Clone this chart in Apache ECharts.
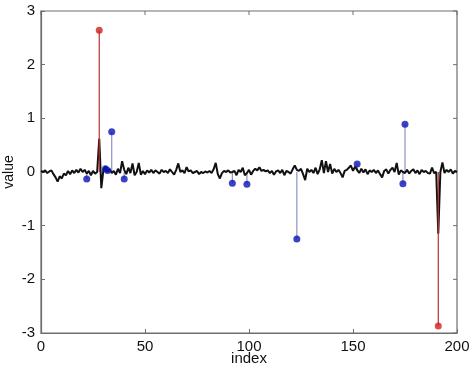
<!DOCTYPE html>
<html><head><meta charset="utf-8">
<script src="https://cdn.jsdelivr.net/npm/echarts@6/dist/echarts.min.js"></script>
<style>html,body{margin:0;padding:0;background:#fff}#c{width:474px;height:368px}</style>
</head><body><div id="c"></div>
<script>
const xTicks = [0, 50, 100, 150, 200];
const yTicks = [-3, -2, -1, 0, 1, 2, 3];
const signal = [
 0.02, 0.0, 0.03, -0.02, 0.01, 0.03, -0.04, -0.1, -0.18, -0.08,
 -0.12, -0.03, -0.06, 0.02, -0.04, 0.03, -0.02, 0.04, -0.01, 0.06,
 0.0, 0.04, -0.03, 0.02, -0.06, 0.02, -0.03, 0.0, 0.62, -0.3,
 0.04, 0.1, 0.0, 0.05, -0.02, 0.02, -0.05, 0.06, -0.02, 0.2,
 0.04, -0.04, 0.08, -0.02, 0.16, -0.06, 0.0, 0.17, -0.05, 0.02,
 -0.04, 0.03, -0.01, 0.04, -0.02, 0.03, 0.0, -0.03, 0.04, 0.0,
 0.02, -0.02, 0.05, 0.0, -0.05, 0.04, 0.16, 0.0, 0.03, -0.02,
 0.09, 0.01, 0.03, -0.02, 0.0, 0.02, -0.04, 0.0, -0.02, 0.01,
 -0.01, 0.02, -0.02, 0.05, 0.17, -0.04, -0.12, -0.02, 0.02, 0.0,
 0.03, -0.01, 0.0, 0.02, -0.06, 0.04, 0.0, 0.08, -0.06, -0.02,
 0.04, -0.05, 0.02, 0.06, 0.03, 0.09, 0.02, 0.04, 0.01, 0.03,
 -0.02, 0.02, -0.05, 0.01, 0.03, -0.02, 0.04, -0.06, 0.02, 0.0,
 -0.03, 0.05, 0.12, 0.04, 0.02, 0.06, -0.04, -0.15, 0.06, 0.0,
 0.04, -0.02, 0.08, -0.04, 0.05, 0.22, -0.02, 0.2, 0.0, 0.15,
 -0.03, 0.06, 0.0, 0.04, -0.02, -0.1, 0.02, 0.04, 0.08, 0.12,
 0.02, 0.1, 0.04, -0.02, 0.06, -0.01, 0.05, -0.04, 0.03, 0.0,
 0.04, -0.02, 0.03, -0.04, -0.1, 0.02, 0.05, -0.03, 0.04, 0.08,
 0.0, 0.17, -0.05, 0.03, 0.0, -0.02, 0.04, -0.03, 0.02, 0.05,
 -0.02, 0.03, -0.04, 0.04, 0.0, 0.02, -0.02, -0.03, 0.08, -0.02,
 0.0, -1.15, 0.0, 0.18, -0.02, 0.04, 0.0, 0.05, -0.03, 0.02,
 0.0
];
const blueIdx = [22, 31, 32, 34, 40, 92, 99, 123, 152, 174, 175];
const blueVal = [-0.13, 0.06, 0.03, 0.75, -0.13, -0.21, -0.23, -1.25, 0.15, -0.22, 0.89];
const redIdx = [28, 191];
const redVal = [2.64, -2.87];

const lineData = signal.map((v, i) => [i, v]);
const blueData = blueIdx.map((x, i) => [x, blueVal[i]]);
const redData = redIdx.map((x, i) => [x, redVal[i]]);

const frameColor = '#6e6e6e';
const xMin = xTicks[0], xMax = xTicks[xTicks.length - 1];
const yMin = yTicks[0], yMax = yTicks[yTicks.length - 1];

function stems(color) {
  return function (params, api) {
    const x = api.value(0), y = api.value(1);
    const p0 = api.coord([x, 0]);
    const p1 = api.coord([x, y]);
    return { type: 'line', shape: { x1: p0[0], y1: p0[1], x2: p1[0], y2: p1[1] },
      style: { stroke: color, lineWidth: 1.2 } };
  };
}
// box outline taken from the grid's own coordinate system rectangle
function box(params, api) {
  const cs = params.coordSys;
  return { type: 'rect', shape: { x: cs.x, y: cs.y, width: cs.width, height: cs.height },
    style: { stroke: frameColor, lineWidth: 1.2, fill: 'rgba(0,0,0,0)' } };
}
function topTick(params, api) {
  const p = api.coord([api.value(0), yMax]);
  return { type: 'line', shape: { x1: p[0], y1: p[1], x2: p[0], y2: p[1] + 4 },
    style: { stroke: frameColor, lineWidth: 1 } };
}
function rightTick(params, api) {
  const p = api.coord([xMax, api.value(1)]);
  return { type: 'line', shape: { x1: p[0], y1: p[1], x2: p[0] - 4, y2: p[1] },
    style: { stroke: frameColor, lineWidth: 1 } };
}

const font = '"Liberation Sans", Arial, sans-serif';
const chart = echarts.init(document.getElementById('c'), null, { renderer: 'canvas' });
const axisLine = { show: true, onZero: false, lineStyle: { color: frameColor, width: 1.2 } };
const tick = { show: true, inside: true, length: 4, lineStyle: { color: frameColor } };
chart.setOption({
  animation: false,
  backgroundColor: '#fff',
  grid: { left: 41, right: 17, top: 11, bottom: 35, containLabel: false, outerBoundsMode: 'none' },
  xAxis: {
    type: 'value', position: 'bottom', min: xMin, max: xMax, interval: 50,
    axisLine: axisLine, axisTick: tick,
    axisLabel: { color: '#111', fontSize: 15, fontFamily: font, margin: 6 },
    splitLine: { show: false },
    name: 'index', nameLocation: 'middle', nameGap: 18, nameMoveOverlap: false,
    nameTextStyle: { color: '#111', fontSize: 15, fontFamily: font }
  },
  yAxis: {
    type: 'value', position: 'left', min: yMin, max: yMax, interval: 1,
    axisLine: axisLine, axisTick: tick,
    axisLabel: { color: '#111', fontSize: 15, fontFamily: font, margin: 6 },
    splitLine: { show: false },
    name: 'value', nameLocation: 'middle', nameGap: 25, nameMoveOverlap: false,
    nameTextStyle: { color: '#111', fontSize: 14, fontFamily: font }
  },
  series: [
    { type: 'custom', renderItem: box, data: [[100, 0]], clip: false, silent: true, z: 1 },
    { type: 'custom', renderItem: topTick, data: xTicks.map(t => [t, 0]), clip: false, silent: true, z: 1 },
    { type: 'custom', renderItem: rightTick, data: yTicks.map(t => [100, t]), clip: false, silent: true, z: 1 },
    { type: 'custom', renderItem: stems('#8c93c4'), data: blueData, z: 2 },
    { type: 'line', data: lineData, showSymbol: false, symbol: 'none',
      lineStyle: { color: '#111', width: 2 }, z: 3 },
    { type: 'custom', renderItem: stems('#b8302a'), data: redData, z: 4 },
    { type: 'scatter', data: blueData, symbol: 'circle', symbolSize: 7,
      itemStyle: { color: '#0a14b4' }, z: 5 },
    { type: 'scatter', data: redData, symbol: 'circle', symbolSize: 7,
      itemStyle: { color: '#cc2222' }, z: 5 }
  ]
});
</script></body></html>
